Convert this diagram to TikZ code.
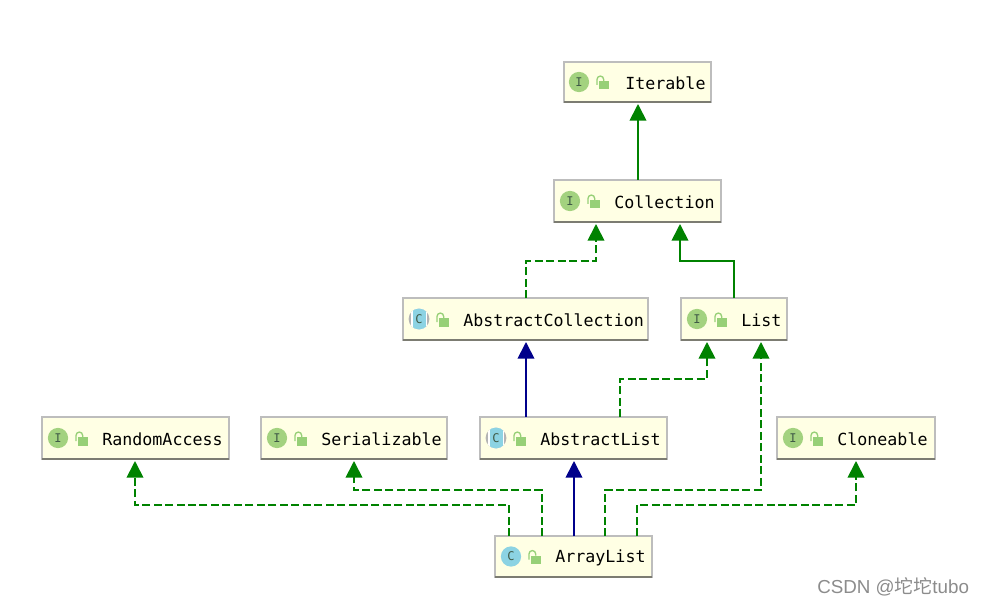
\documentclass[tikz,border=0pt]{standalone}
\usepackage{fontspec}
\setmonofont{DejaVu Sans Mono}
\newfontfamily\wmlatin{Liberation Sans}
\newfontfamily\wmcjk{Noto Sans CJK SC}
\usetikzlibrary{arrows.meta}
\definecolor{boxfill}{HTML}{FFFFE4}
\definecolor{boxedge}{HTML}{BDBDBD}
\definecolor{boxbase}{HTML}{7C7C72}
\definecolor{implgreen}{HTML}{008200}
\definecolor{extnavy}{HTML}{00008B}
\definecolor{ifacegreen}{HTML}{A3D27F}
\definecolor{lockgreen}{HTML}{97D077}
\definecolor{classblue}{HTML}{8CD3E3}
\definecolor{iconink}{HTML}{3F5A46}
\definecolor{ringgray}{HTML}{B4B4B4}
\tikzset{
  x=0.75pt, y=-0.75pt,
  umlbox/.style={draw=boxedge, line width=1.4pt, fill=boxfill, inner sep=0pt, outer sep=0pt, anchor=north west},
  umltext/.style={font=\ttfamily\fontsize{12.5}{14}\selectfont, text=black, anchor=west, inner sep=0pt},
  iconletter/.style={font=\ttfamily\fontsize{9}{10}\selectfont, text=iconink, inner sep=0pt},
  solidlink/.style={draw=implgreen, line width=1.3pt, -{Triangle[length=12.5pt,width=12.5pt,fill=implgreen]}},
  dashlink/.style={draw=implgreen, line width=1.3pt, dash pattern=on 6pt off 2.6pt, -{Triangle[length=12.5pt,width=12.5pt,fill=implgreen]}},
  extlink/.style={draw=extnavy, line width=1.3pt, -{Triangle[length=12.5pt,width=12.5pt,fill=extnavy]}},
}
% #1 name, #2 left, #3 top, #4 width, #5 height, #6 text, #7 kind (I,C,A), #8 icon x, #9 text x
\newcommand{\umlclass}[9]{%
  \node[umlbox, minimum width=#4*0.75pt, minimum height=#5*0.75pt] (#1) at (#2,#3) {};
  \draw[boxbase, line width=1pt] (#1.south west) -- (#1.south east);
  \coordinate (#1ic) at (#8,#3+#5/2);
  \ifx#7A
    \fill[ringgray] (#1ic) circle (7.8pt);
    \begin{scope}
      \clip (#1ic) circle (7.8pt);
      \fill[white] ([shift={(-7.9,-11)}]#1ic) rectangle ([shift={(7.9,11)}]#1ic);
      \fill[classblue] ([shift={(-6.5,-11)}]#1ic) rectangle ([shift={(6.5,11)}]#1ic);
    \end{scope}
    \node[iconletter] (#1let) at (#1ic) {C};
  \else
    \ifx#7I
      \fill[ifacegreen] (#1ic) circle (7.6pt);
      \node[iconletter] (#1let) at (#1ic) {I};
    \else
      \fill[classblue] (#1ic) circle (7.6pt);
      \node[iconletter] (#1let) at (#1ic) {C};
    \fi
  \fi
  \coordinate (#1lk) at (#8+24.5,#3+#5/2+3);
  \fill[lockgreen] ([shift={(-5,-4)}]#1lk) rectangle ([shift={(5,4.5)}]#1lk);
  \draw[lockgreen, line width=1pt] ([shift={(-6.5,0)}]#1lk) -- ++(0,4.2pt) arc[start angle=180,end angle=0,radius=2.5pt] -- ++(0,-1.2pt);
  \node[umltext] (#1txt) at (#9,#3+#5/2+1.4) {#6};
}
\begin{document}
\begin{tikzpicture}
\useasboundingbox (0,0) rectangle (982,606);
\fill[white] (0,0) rectangle (982,606);
\umlclass{iterable}{564}{62}{147}{40}{Iterable}{I}{579}{625}
\umlclass{collection}{554}{180}{167}{42}{Collection}{I}{570}{614}
\umlclass{abscoll}{403}{298}{245}{42}{AbstractCollection}{A}{419}{463}
\umlclass{list}{681}{298}{106}{42}{List}{I}{697}{741}
\umlclass{randomaccess}{42}{417}{187}{42}{RandomAccess}{I}{58}{102}
\umlclass{serializable}{261}{417}{186}{42}{Serializable}{I}{277}{321}
\umlclass{abslist}{480}{417}{187}{42}{AbstractList}{A}{496}{540}
\umlclass{cloneable}{777}{417}{158}{42}{Cloneable}{I}{793}{837}
\umlclass{arraylist}{495}{536}{157}{41}{ArrayList}{C}{511}{555}

\coordinate (c0) at (638,140);
\coordinate (c1) at (526,261);
\coordinate (c2) at (596,261);
\coordinate (c3) at (734,261);
\coordinate (c4) at (680,261);
\coordinate (c5) at (620,379);
\coordinate (c6) at (707,379);
\coordinate (c7) at (605,490);
\coordinate (c8) at (761,490);
\coordinate (c9) at (637,505);
\coordinate (c10) at (856,505);
\coordinate (c11) at (542,490);
\coordinate (c12) at (354,490);
\coordinate (c13) at (509,505);
\coordinate (c14) at (135,505);
\coordinate (c15) at (574,490);

\draw[solidlink] (c0 |- collection.north) -- ([yshift=-1.5pt]c0 |- iterable.south);
\draw[dashlink] (c1 |- abscoll.north) -- (c1) -- (c2) -- ([yshift=-1.5pt]c2 |- collection.south);
\draw[solidlink] (c3 |- list.north) -- (c3) -- (c4) -- ([yshift=-1.5pt]c4 |- collection.south);
\draw[extlink] (c1 |- abslist.north) -- ([yshift=-1.5pt]c1 |- abscoll.south);
\draw[dashlink] (c5 |- abslist.north) -- (c5) -- (c6) -- ([yshift=-1.5pt]c6 |- list.south);
\draw[extlink] (c15 |- arraylist.north) -- ([yshift=-1.5pt]c15 |- abslist.south);
\draw[dashlink] (c7 |- arraylist.north) -- (c7) -- (c8) -- ([yshift=-1.5pt]c8 |- list.south);
\draw[dashlink] (c9 |- arraylist.north) -- (c9) -- (c10) -- ([yshift=-1.5pt]c10 |- cloneable.south);
\draw[dashlink] (c11 |- arraylist.north) -- (c11) -- (c12) -- ([yshift=-1.5pt]c12 |- serializable.south);
\draw[dashlink] (c13 |- arraylist.north) -- (c13) -- (c14) -- ([yshift=-1.5pt]c14 |- randomaccess.south);

\node[anchor=west, inner sep=0pt, text=black!45, font=\fontsize{14.1}{16}\selectfont] (watermark) at (817,587) {\wmlatin CSDN @\wmcjk 坨坨\wmlatin tubo};
\end{tikzpicture}
\end{document}
